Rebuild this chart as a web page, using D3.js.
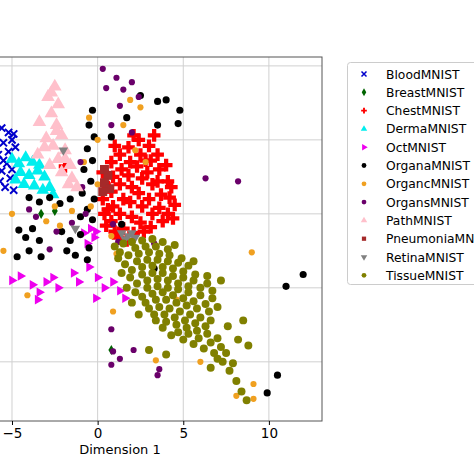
<!DOCTYPE html>
<html><head><meta charset="utf-8">
<script src="https://cdn.jsdelivr.net/npm/d3@7"></script>
<style>body{margin:0;background:#fff;font-family:"DejaVu Sans",sans-serif}</style>
</head><body>
<svg id="chart" width="474" height="474"></svg>
<script>
// class names and colours, as in the legend
var classNames = ['BloodMNIST','BreastMNIST','ChestMNIST','DermaMNIST','OctMNIST','OrganaMNIST',
  'OrgancMNIST','OrgansMNIST','PathMNIST','PneumoniaMNIST','RetinaMNIST','TissueMNIST'];
var classColors = ['#0000cc','#006400','#ff0000','#00eeee','#ee00ee','#000000',
  '#f0a020','#6a006a','#ffc0cb','#a52a2a','#808080','#808000'];
var xTicks = [-5, 0, 5, 10];
var yGrid = [10, 5, 0, -5, -10];

// points per class (dimension 1, dimension 2)
var blood = [[-5.6,5.8],[-5.2,5.5],[-5,5],[-4.8,4.5],[-5.5,4.8],[-5.8,4],[-5.3,3.4],[-5.6,2.9],[-5.1,2.4],[-5.7,2.2],[-5.4,1.8],[-5,3],[-5.5,3.6],[-4.9,1.6],[-5.2,4.2],[-4.9,5.4]];
var breast = [[-3.3,0],[-2.5,0.2],[0.8,-9.2]];
var chest = [[0.3,2.8],[0.4,2],[0.3,1],[0.4,0],[0.5,-0.8],[0.8,3.5],[0.9,2.5],[0.8,1.5],[0.9,0.5],[0.8,-0.5],[1,-1.2],[1.3,4],[1.4,3],[1.3,2],[1.5,1],[1.3,0],[1.5,-1],[1.8,4.5],[1.9,3.5],[1.8,2.6],[2,1.8],[1.9,0.8],[2,-0.2],[2.1,-1.3],[2.4,5],[2.5,4],[2.3,3.2],[2.6,2.4],[2.4,1.4],[2.6,0.5],[2.5,-0.6],[2.7,-1.2],[3,4.6],[3.1,3.6],[2.9,2.8],[3.2,2],[3,1],[3.2,0],[3.1,-0.9],[3.5,4],[3.6,3],[3.5,2.2],[3.7,1.3],[3.6,0.4],[3.8,-0.5],[4,3.3],[4.1,2.2],[4.2,1.1],[4.1,0],[4.4,-0.3],[4.3,1.8],[4.5,0.6],[3.3,5.3],[2.1,5.3],[1,4.6],[1.2,-1.6],[1.7,-1.8],[0.6,0.3],[0.6,1.8],[2.8,3.6],[-1.9,3.2]];
var derma = [[-5,3.7],[-4.6,3.4],[-4.2,3.8],[-3.8,3.5],[-4.5,2.8],[-4,2.6],[-3.5,2.9],[-3.1,2.5],[-4.3,2],[-3.7,1.9],[-3.2,1.6],[-2.8,1.8],[-4.8,2.3],[-2.6,1.3],[-3.4,3.3]];
var oct = [[-0.8,-1.3],[-0.4,-1],[-0.2,-1.6],[-0.6,-2],[-0.1,-1.2],[-5,-4.5],[-4.5,-4.2],[-3.8,-4.8],[-3.4,-5.3],[-3,-4.6],[-2.6,-4.3],[-2.3,-5],[-1.4,-4],[-1.1,-4.6],[-0.5,-3.6],[0,-4.3],[0.4,-5],[0.9,-4.6],[1.3,-5.2],[1.6,-5.7],[-0.1,-5.7],[-3.5,-5.8]];
var organa = [[-0.3,7],[-0.5,6],[-0.2,5.2],[-0.6,4.4],[-0.3,3.6],[-0.8,3],[-0.4,2.2],[-0.9,1.4],[-0.2,1],[-0.6,0.3],[-0.3,-0.4],[-1,-0.2],[-4,1.1],[-3.4,0.8],[-2.8,1.1],[-2.2,0.7],[-1.6,1],[-4.6,-1.1],[-4.2,-1.6],[-3.8,-1],[-3.4,-1.8],[-4,-2.5],[-3.3,-2.9],[-4.7,-2.9],[-2.1,-1.2],[-1.6,-1.8],[-1,-1.4],[-0.5,-2.3],[-1.3,-2.8],[-0.6,-3.1],[-1.8,-2.5],[2.5,8],[3.5,7.6],[4,7.7],[4.8,7],[4.7,6.1],[3.5,6],[1.7,6.5],[0.8,5.2],[12,-4.1],[11,-4.9],[10.5,-10.9],[9.9,-12.1],[1.4,-0.7],[3.3,-3.7]];
var organc = [[-0.5,6.5],[0,5],[-0.8,3.5],[0,2],[-0.4,0.5],[-2.5,0.5],[-3,-0.5],[-2.2,-0.8],[-1.5,0.2],[-5,0],[-5.5,-2.5],[1.5,6],[2.5,7.2],[2.2,4.3],[2.8,3.5],[1.9,7.7],[0.8,-1.5],[1.1,-2.7],[9,-2.6],[9.1,-11.5],[8.1,-12.3],[9.1,-12.5],[6,-10],[3.4,-9.9],[4.6,-5.8],[-4.1,-5.5],[0.9,-6.6]];
var organs = [[0.3,9.8],[0.5,8.5],[1.1,9.2],[1.5,8.4],[2,8.9],[2.4,7.9],[1.3,7.3],[0.8,6],[2,5.5],[-1,3.5],[-0.9,1.8],[-0.7,0],[-1.5,-0.6],[-2.4,-1.2],[-4,0.3],[-3.6,-0.2],[0.9,-0.7],[1.2,-1.9],[6.3,2.4],[8.2,2.2],[0.8,-7.8],[0.9,-9.3],[1.3,-9.8],[2.1,-9.2],[0.8,-10.2],[3.5,-10.9],[3.6,-10.5],[-2.8,-2.4],[3.3,-2]];
var path = [[-2.5,8.6],[-2.9,7.9],[-2.3,7.4],[-2.7,6.8],[-3.4,6.2],[-2.4,6],[-2.1,5.3],[-3,5.1],[-2.6,4.6],[-1.9,4.3],[-3.5,4],[-2.3,3.7],[-1.6,3.3],[-2.8,3.3],[-1.5,2.4],[-2.1,2.8],[-1.2,1.8],[-1.7,2],[-3.1,4.5],[-2.7,8.2],[-2.4,5.6],[-1.9,3.7]];
var pneumonia = [[0.4,3],[0.6,2.6],[0.4,2.1],[0.7,1.7],[0.3,1.5]];
var retina = [[1.4,-1.3],[1.8,-1.5],[2.2,-1.6],[1.6,-1.7],[2,-1.3],[-1.3,-1],[-2,4.3]];
var tissue = [[1,-2.2],[1.5,-2],[2,-1.9],[2.6,-1.8],[3.2,-1.7],[3.8,-1.9],[4.5,-2.1],[1.2,-3],[1.8,-2.8],[2.4,-2.7],[3,-2.6],[3.6,-2.7],[4.2,-2.8],[4.9,-3],[5.6,-3.2],[1.4,-4],[2,-3.8],[2.6,-3.6],[3.2,-3.5],[3.8,-3.6],[4.4,-3.7],[5,-3.9],[5.7,-4.1],[6.4,-4.2],[7.2,-4.5],[1.7,-5],[2.3,-4.7],[2.9,-4.5],[3.5,-4.4],[4.1,-4.5],[4.7,-4.7],[5.3,-4.9],[6,-5],[6.7,-5.2],[2,-6],[2.6,-5.6],[3.2,-5.4],[3.8,-5.3],[4.4,-5.5],[5,-5.7],[5.6,-5.9],[6.3,-6.1],[7,-6.3],[2.4,-6.8],[3,-6.4],[3.6,-6.3],[4.2,-6.4],[4.8,-6.6],[5.4,-6.8],[6,-7],[6.6,-7.2],[3.4,-7.2],[4,-7.3],[4.6,-7.5],[5.2,-7.7],[5.8,-7.9],[6.4,-8.1],[7,-8.4],[4.3,-8.2],[5,-8.5],[5.6,-8.8],[6.2,-9.1],[6.8,-9.4],[7.3,-10],[7.7,-10.6],[8.1,-11.3],[8.4,-12],[8.7,-12.6],[7.6,-7.6],[8.2,-8.5],[3,-9.2],[4,-9.5],[6.6,-10.4],[8.8,-8.9],[8.5,-7.2],
  [1.3,-2.6],[2.2,-2.3],[2.8,-2.2],[3.4,-2.2],[4.1,-2.4],[1.6,-3.4],[2.3,-3.2],[2.9,-3.1],[3.5,-3.1],[4.1,-3.2],[4.7,-3.3],[5.3,-3.5],[1.9,-4.3],[2.6,-4.1],[3.2,-4],[3.8,-4],[4.4,-4.2],[5,-4.3],[5.6,-4.5],[6.4,-4.7],[2.2,-5.3],[2.9,-5],[3.5,-4.9],[4.1,-5],[4.7,-5.1],[5.3,-5.3],[6,-5.5],[6.7,-5.7],[2.8,-6],[3.4,-5.8],[4,-5.8],[4.6,-6],[5.2,-6.2],[5.8,-6.4],[6.5,-6.6],[3.3,-6.8],[3.9,-6.8],[4.5,-7],[5.1,-7.2],[5.7,-7.4],[6.3,-7.6],[3.8,-7.7],[4.7,-8],[5.3,-8.1],[5.9,-8.4],[6.6,-8.7],[7.2,-9],[7,-9.8],[7.5,-9.4],[7.9,-10.1]];

var groups = [blood, breast, chest, derma, oct, organa, organc, organs, path, pneumonia, retina, tissue];
var symbols = [d3.symbolTimes, d3.symbolDiamond, d3.symbolCross, d3.symbolTriangle, d3.symbolTriangle,
  d3.symbolCircle, d3.symbolCircle, d3.symbolCircle, d3.symbolTriangle, d3.symbolSquare, d3.symbolTriangle, d3.symbolCircle];
var sizes = [35, 30, 90, 70, 40, 40, 30, 30, 80, 80, 40, 50];

var svg = d3.select('#chart');
var x = d3.scaleLinear().domain([-5.7, 13.1]).range([0, 322]);
var y = d3.scaleLinear().domain([10.6, -14]).range([57, 421]);

// grid
svg.append('g').selectAll('line').data(xTicks).enter().append('line')
  .attr('x1', d => x(d)).attr('x2', d => x(d)).attr('y1', 57).attr('y2', 421)
  .attr('stroke', '#d0d0d0');
svg.append('g').selectAll('line').data(yGrid).enter().append('line')
  .attr('x1', 0).attr('x2', 322).attr('y1', d => y(d)).attr('y2', d => y(d))
  .attr('stroke', '#d0d0d0');

function rot(i) { return i == 4 ? ' rotate(90)' : i == 10 ? ' rotate(180)' : ''; }

// points, drawn in legend order
groups.forEach(function(pts, i) {
  var sym = d3.symbol().type(symbols[i]).size(sizes[i]);
  svg.append('g').selectAll('path').data(pts).enter().append('path')
    .attr('d', sym)
    .attr('transform', d => 'translate(' + x(d[0]) + ',' + y(d[1]) + ')' + rot(i))
    .attr('fill', i == 0 ? 'none' : classColors[i])
    .attr('stroke', i == 0 ? classColors[i] : 'none')
    .attr('stroke-width', 2);
});

// frame
svg.append('rect').attr('x', -2).attr('y', 57).attr('width', 324).attr('height', 364)
  .attr('fill', 'none').attr('stroke', '#555');

var xAxis = svg.append('g').attr('transform', 'translate(0,421)')
  .call(d3.axisBottom(x).tickValues(xTicks).tickFormat(d => d < 0 ? '\u2212' + (-d) : d).tickSize(4));
xAxis.select('.domain').remove();
xAxis.selectAll('text').attr('font-size', 13.5).attr('font-family', 'DejaVu Sans').attr('fill', '#000');
svg.append('text').attr('x', 120).attr('y', 454).attr('text-anchor', 'middle')
  .attr('font-size', 13).text('Dimension 1');

// legend
var lg = svg.append('g');
lg.append('rect').attr('x', 347.5).attr('y', 62.5).attr('width', 140).attr('height', 222)
  .attr('fill', '#fff').attr('stroke', '#ccc').attr('rx', 3);
classNames.forEach(function(name, i) {
  var yy = 74 + i * 18.3;
  lg.append('path').attr('d', d3.symbol().type(symbols[i]).size(18)())
    .attr('transform', 'translate(364,' + yy + ')' + rot(i))
    .attr('fill', i == 0 ? 'none' : classColors[i])
    .attr('stroke', i == 0 ? classColors[i] : 'none').attr('stroke-width', 1.5);
  lg.append('text').attr('x', 386).attr('y', yy + 4.5).attr('font-size', 12.3).text(name);
});
</script>
</body></html>
